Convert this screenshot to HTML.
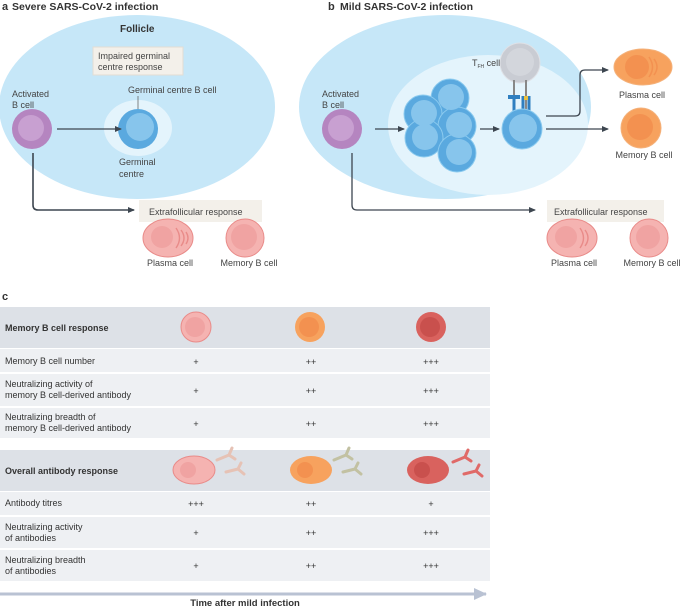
<!DOCTYPE html>
<html><head><style>body{margin:0;background:#fff}svg{display:block;font-family:"Liberation Sans",sans-serif}</style></head><body>
<svg width="685" height="607" viewBox="0 0 685 607" xmlns="http://www.w3.org/2000/svg">
<defs>
<marker id="ar" markerWidth="8" markerHeight="8" refX="6" refY="4" orient="auto" markerUnits="userSpaceOnUse"><path d="M0,1 L7,4 L0,7 Z" fill="#3d4650"/></marker>
<marker id="ar2" markerWidth="14" markerHeight="14" refX="12" refY="7" orient="auto" markerUnits="userSpaceOnUse"><path d="M0,1 L13,7 L0,13 Z" fill="#b9c2d3"/></marker>
</defs>
<g font-size="10" fill="#333">
<text x="2" y="10" font-weight="bold" font-size="11">a</text><text x="12" y="10" font-weight="bold" font-size="10.5">Severe SARS-CoV-2 infection</text>
<text x="328" y="10" font-weight="bold" font-size="11">b</text><text x="340" y="10" font-weight="bold" font-size="10.5">Mild SARS-CoV-2 infection</text>
</g>
<!-- panel a -->
<ellipse cx="137" cy="107" rx="138" ry="92" fill="#c6e7f8"/>
<text x="120" y="32" font-size="10" font-weight="bold" fill="#333">Follicle</text>
<rect x="93" y="47" width="90" height="28" fill="#f3f0ea" stroke="#e3ddd3"/>
<text x="98" y="59" font-size="9" fill="#444">Impaired germinal</text><text x="98" y="70" font-size="9" fill="#444">centre response</text>
<ellipse cx="138" cy="128" rx="34" ry="28" fill="#e4f4fc"/>
<circle cx="138" cy="129" r="20" fill="#5aa9df"/><circle cx="140" cy="127" r="14" fill="#87c5ec"/>
<text x="128" y="93" font-size="9" fill="#444">Germinal centre B cell</text>
<line x1="138" y1="96" x2="138" y2="109" stroke="#666" stroke-width="0.8"/>
<text x="119" y="165" font-size="9" fill="#444">Germinal</text><text x="119" y="177" font-size="9" fill="#444">centre</text>
<circle cx="32" cy="129" r="20" fill="#b585c0"/><circle cx="31" cy="128" r="13" fill="#c8a0d1"/>
<text x="12" y="97" font-size="9" fill="#444">Activated</text><text x="12" y="108" font-size="9" fill="#444">B cell</text>
<line x1="57" y1="129" x2="121" y2="129" stroke="#3d4650" stroke-width="1.3" marker-end="url(#ar)"/>
<path d="M33,153 V205 Q33,210 38,210 H134" fill="none" stroke="#3d4650" stroke-width="1.6" marker-end="url(#ar)"/>
<rect x="139" y="200" width="123" height="22" fill="#f3f0ea"/>
<text x="149" y="215" font-size="9" fill="#444">Extrafollicular response</text>
<ellipse cx="168" cy="238" rx="25" ry="19" fill="#f5b3b1" stroke="#e98b89"/><circle cx="162" cy="237" r="11" fill="#f0a3a2"/>
<path d="M176,228 q7,10 0,20 M181,230 q6,8 0,16 M186,232 q4,6 0,12" fill="none" stroke="#e98b89" stroke-width="1.4"/>
<circle cx="245" cy="238" r="19" fill="#f5b3b1" stroke="#e98b89"/><circle cx="244" cy="237" r="13" fill="#f0a3a2"/>
<text x="170" y="266" font-size="9" fill="#444" text-anchor="middle">Plasma cell</text>
<text x="249" y="266" font-size="9" fill="#444" text-anchor="middle">Memory B cell</text>
<!-- panel b -->
<ellipse cx="445" cy="107" rx="146" ry="92" fill="#c6e7f8"/>
<ellipse cx="488" cy="125" rx="100" ry="70" fill="#e4f4fc"/>
<circle cx="342" cy="129" r="20" fill="#b585c0"/><circle cx="341" cy="128" r="13" fill="#c8a0d1"/>
<text x="322" y="97" font-size="9" fill="#444">Activated</text><text x="322" y="108" font-size="9" fill="#444">B cell</text>
<line x1="375" y1="129" x2="404" y2="129" stroke="#3d4650" stroke-width="1.3" marker-end="url(#ar)"/>
<g fill="#5aa9df" stroke="#8ccbef">
<circle cx="450" cy="98" r="19"/><circle cx="423" cy="114" r="19"/><circle cx="457" cy="126" r="19"/><circle cx="424" cy="138" r="19"/><circle cx="457" cy="153" r="19"/>
</g>
<g fill="#87c5ec"><circle cx="451" cy="97" r="13"/><circle cx="424" cy="113" r="13"/><circle cx="459" cy="125" r="13"/><circle cx="425" cy="137" r="13"/><circle cx="459" cy="152" r="13"/></g>
<line x1="480" y1="129" x2="499" y2="129" stroke="#3d4650" stroke-width="1.3" marker-end="url(#ar)"/>
<circle cx="520" cy="63" r="20" fill="#c9ccd3" stroke="#dfe1e6"/><circle cx="520" cy="62" r="14" fill="#d3d6dc"/>
<line x1="514" y1="80" x2="514" y2="112" stroke="#888" stroke-width="2"/><line x1="526" y1="80" x2="526" y2="112" stroke="#888" stroke-width="2"/>
<rect x="508" y="95" width="12" height="4" fill="#2f7fc0"/><line x1="514" y1="99" x2="514" y2="113" stroke="#2f7fc0" stroke-width="3"/>
<line x1="523" y1="96" x2="523" y2="113" stroke="#2f7fc0" stroke-width="3"/><line x1="529" y1="96" x2="529" y2="113" stroke="#2f7fc0" stroke-width="3"/><rect x="524" y="96" width="4" height="4" fill="#e8c040"/>
<circle cx="522" cy="129" r="20" fill="#5aa9df" stroke="#8ccbef"/><circle cx="523" cy="128" r="14" fill="#87c5ec"/>
<text x="472" y="66" font-size="9" fill="#444">T<tspan font-size="5" dy="2">FH</tspan><tspan dy="-2"> cell</tspan></text>
<path d="M546,116 H575 Q580,116 580,111 V75 Q580,70 585,70 H608" fill="none" stroke="#3d4650" stroke-width="1.3" marker-end="url(#ar)"/>
<line x1="546" y1="129" x2="608" y2="129" stroke="#3d4650" stroke-width="1.3" marker-end="url(#ar)"/>
<ellipse cx="643" cy="67" rx="29" ry="18" fill="#f7a25e" stroke="#f4b17a"/><circle cx="637" cy="67" r="12" fill="#f39150"/>
<path d="M649,57 q7,10 0,20 M654,59 q6,8 0,16" fill="none" stroke="#f39150" stroke-width="1.5"/>
<text x="642" y="98" font-size="9" fill="#444" text-anchor="middle">Plasma cell</text>
<circle cx="641" cy="128" r="20" fill="#f7a25e" stroke="#f4b17a"/><circle cx="640" cy="127" r="13" fill="#f39150"/>
<text x="644" y="158" font-size="9" fill="#444" text-anchor="middle">Memory B cell</text>
<path d="M352,153 V205 Q352,210 357,210 H535" fill="none" stroke="#3d4650" stroke-width="1.3" marker-end="url(#ar)"/>
<rect x="547" y="200" width="117" height="22" fill="#f3f0ea"/>
<text x="554" y="215" font-size="9" fill="#444">Extrafollicular response</text>
<ellipse cx="572" cy="238" rx="25" ry="19" fill="#f5b3b1" stroke="#e98b89"/><circle cx="566" cy="237" r="11" fill="#f0a3a2"/>
<path d="M580,228 q7,10 0,20 M585,230 q6,8 0,16" fill="none" stroke="#e98b89" stroke-width="1.4"/>
<circle cx="649" cy="238" r="19" fill="#f5b3b1" stroke="#e98b89"/><circle cx="648" cy="237" r="12" fill="#f0a3a2"/>
<text x="574" y="266" font-size="9" fill="#444" text-anchor="middle">Plasma cell</text>
<text x="652" y="266" font-size="9" fill="#444" text-anchor="middle">Memory B cell</text>
<!-- panel c -->
<text x="2" y="300" font-size="11" font-weight="bold" fill="#333">c</text>
<g fill="#eef0f3"><rect x="0" y="349" width="490" height="23"/><rect x="0" y="374" width="490" height="32"/><rect x="0" y="408" width="490" height="30"/>
<rect x="0" y="492" width="490" height="23"/><rect x="0" y="517" width="490" height="31"/><rect x="0" y="550" width="490" height="31"/></g>
<rect x="0" y="307" width="490" height="41" fill="#dde1e7"/>
<rect x="0" y="450" width="490" height="41" fill="#dde1e7"/>
<g font-size="9" fill="#333">
<text x="5" y="331" font-weight="bold">Memory B cell response</text>
<text x="5" y="364">Memory B cell number</text>
<text x="5" y="387">Neutralizing activity of</text><text x="5" y="398">memory B cell-derived antibody</text>
<text x="5" y="420">Neutralizing breadth of</text><text x="5" y="431">memory B cell-derived antibody</text>
<text x="5" y="474" font-weight="bold">Overall antibody response</text>
<text x="5" y="506">Antibody titres</text>
<text x="5" y="530">Neutralizing activity</text><text x="5" y="541">of antibodies</text>
<text x="5" y="563">Neutralizing breadth</text><text x="5" y="574">of antibodies</text>
</g>
<g font-size="9" fill="#333" text-anchor="middle">
<text x="196" y="365">+</text><text x="311" y="365">++</text><text x="431" y="365">+++</text>
<text x="196" y="394">+</text><text x="311" y="394">++</text><text x="431" y="394">+++</text>
<text x="196" y="427">+</text><text x="311" y="427">++</text><text x="431" y="427">+++</text>
<text x="196" y="507">+++</text><text x="311" y="507">++</text><text x="431" y="507">+</text>
<text x="196" y="536">+</text><text x="311" y="536">++</text><text x="431" y="536">+++</text>
<text x="196" y="569">+</text><text x="311" y="569">++</text><text x="431" y="569">+++</text>
</g>
<circle cx="196" cy="327" r="15" fill="#f5b3b1" stroke="#e98b89"/><circle cx="195" cy="327" r="10" fill="#f0a3a2"/>
<circle cx="310" cy="327" r="15" fill="#f7a25e"/><circle cx="309" cy="327" r="10" fill="#f39150"/>
<circle cx="431" cy="327" r="15" fill="#d9625e"/><circle cx="430" cy="327" r="10" fill="#c9504d"/>
<ellipse cx="194" cy="470" rx="21" ry="14" fill="#f5b3b1" stroke="#e98b89"/><circle cx="188" cy="470" r="8" fill="#f0a3a2"/>
<ellipse cx="311" cy="470" rx="21" ry="14" fill="#f7a25e"/><circle cx="305" cy="470" r="8" fill="#f39150"/>
<ellipse cx="428" cy="470" rx="21" ry="14" fill="#d9625e"/><circle cx="422" cy="470" r="8" fill="#c9504d"/>
<g stroke-width="3" fill="none" stroke-linecap="round">
<path d="M217,460 l12,-5 m0,0 l3,-7 m-3,7 l6,4 M226,472 l12,-3 m0,0 l3,-6 m-3,6 l6,5" stroke="#e6c2b5"/>
<path d="M334,460 l12,-5 m0,0 l3,-7 m-3,7 l6,4 M343,472 l12,-3 m0,0 l3,-6 m-3,6 l6,5" stroke="#c2c1a2"/>
<path d="M453,462 l12,-5 m0,0 l3,-7 m-3,7 l6,4 M464,474 l12,-3 m0,0 l3,-6 m-3,6 l6,5" stroke="#e06a68"/>
</g>
<line x1="0" y1="594" x2="486" y2="594" stroke="#b9c2d3" stroke-width="3" marker-end="url(#ar2)"/>
<text x="245" y="606" font-size="9.5" font-weight="bold" fill="#333" text-anchor="middle">Time after mild infection</text>
</svg>
</body></html>
